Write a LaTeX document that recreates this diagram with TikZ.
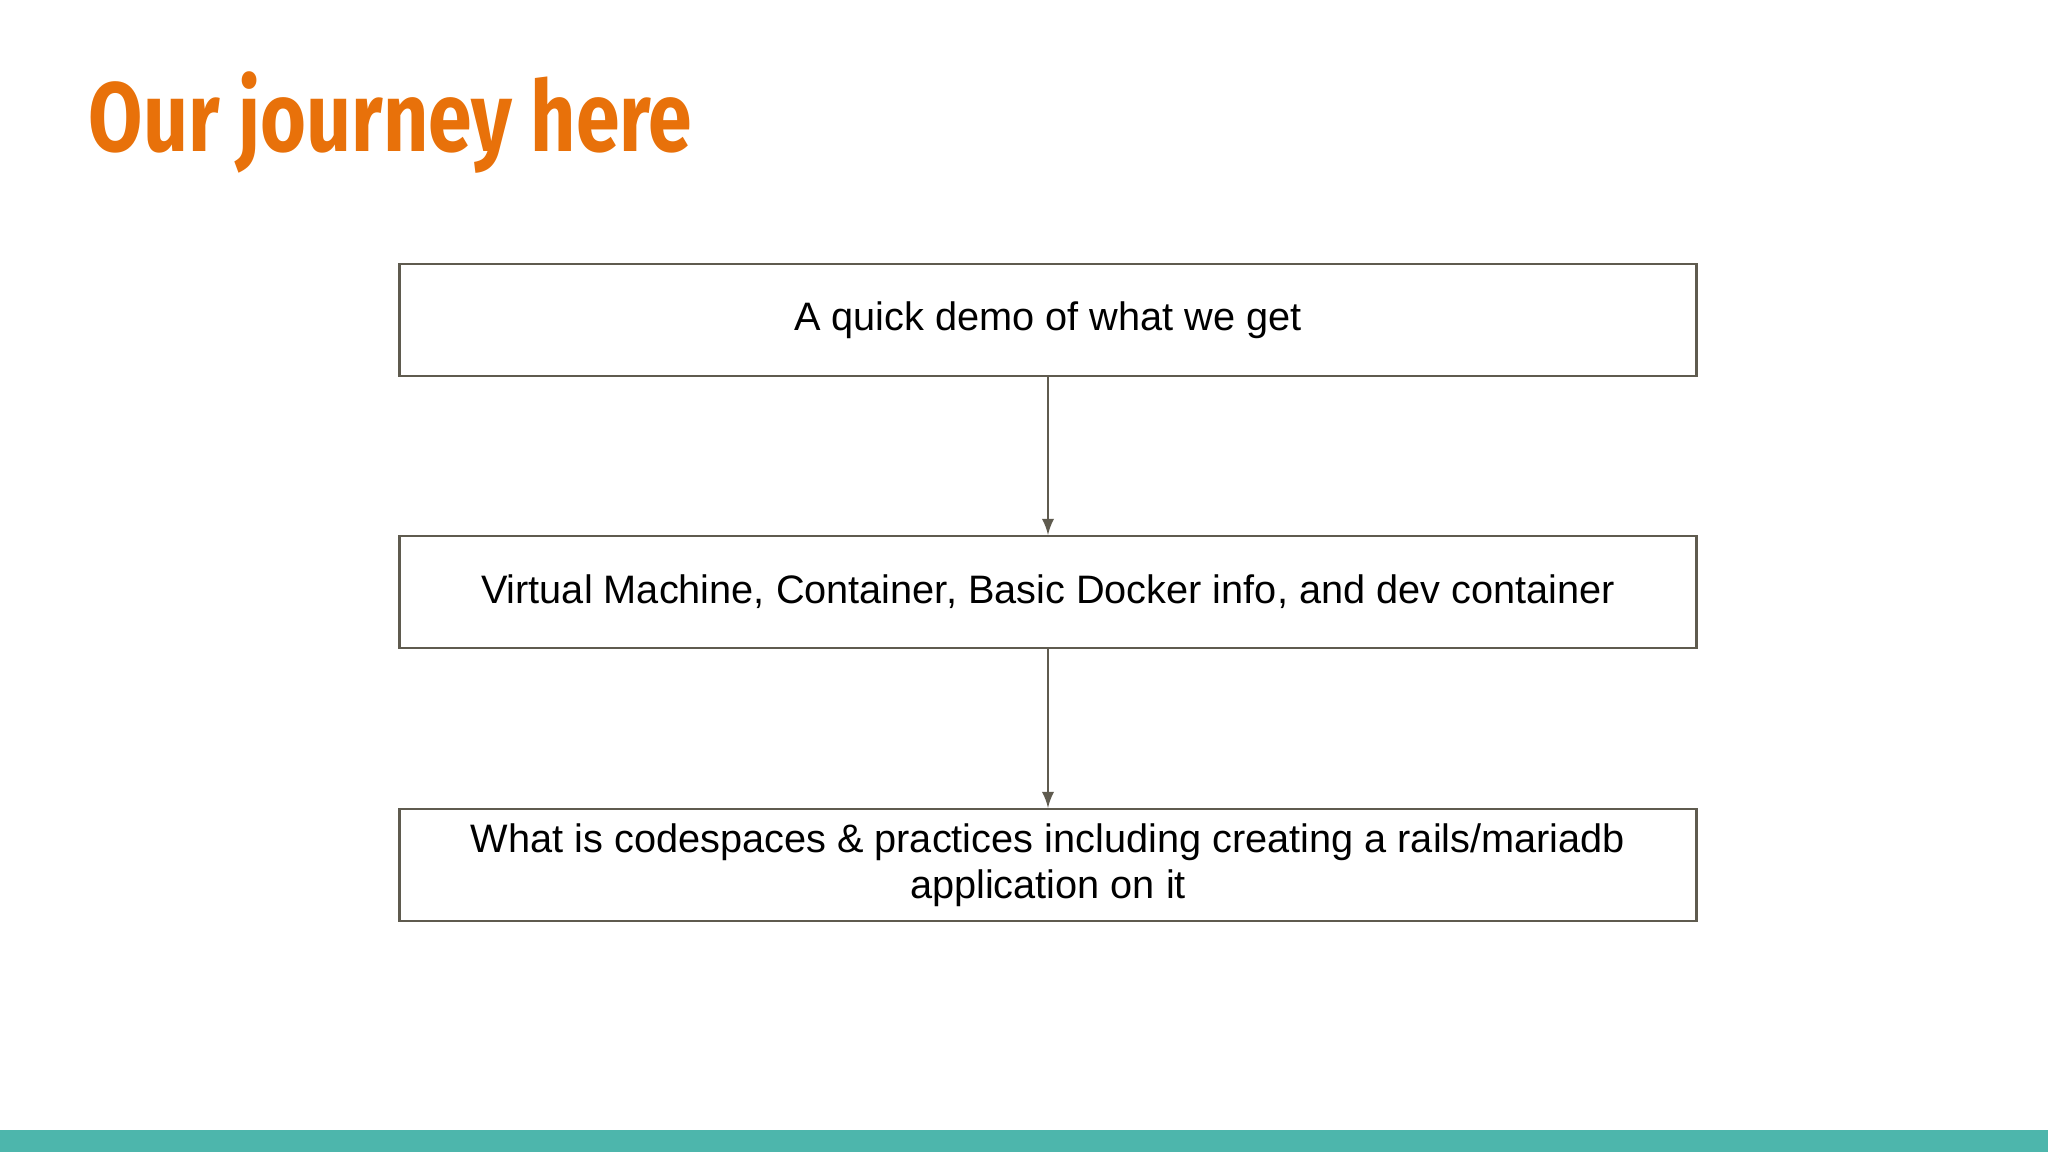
\documentclass[tikz,border=0pt]{standalone}
\usepackage{fontspec}
\setmainfont{Liberation Sans}
\newfontfamily\titlefont{Fira Sans}
\usetikzlibrary{positioning}
\definecolor{titleorange}{HTML}{E8710A}
\definecolor{barteal}{HTML}{4DB6AC}
\definecolor{boxline}{HTML}{5F5B4F}
\tikzset{
  stage/.style={draw=boxline, semithick, minimum width=12.97cm, minimum height=1.12cm,
    align=center, font=\fontsize{11.3}{13.2}\selectfont, inner sep=0pt},
  flow/.style={draw=boxline, semithick, -latex}
}
\begin{document}
\begin{tikzpicture}
    \useasboundingbox (0,0) rectangle (20.48,11.52);
    \fill [barteal] (0,0) rectangle (20.48,0.22);

    \node [anchor=base west, text=titleorange, inner sep=0pt,
      font=\titlefont\bfseries\fontsize{28}{30}\selectfont]
      (title) at (0.88, 10.0) {\scalebox{0.8}[1]{Our journey here}};

    \node [stage] (demo) at (10.48, 8.32) {A quick demo of what we get};
    \node [stage] (docker) at (10.48, 5.60)
      {Virtual Machine, Container, Basic Docker info, and dev container};
    \node [stage] (codespaces) at (10.48, 2.87)
      {What is codespaces \& practices including creating a rails/mariadb\\application on it};

    \draw [flow] (demo) -- (docker);
    \draw [flow] (docker) -- (codespaces);
\end{tikzpicture}
\end{document}
